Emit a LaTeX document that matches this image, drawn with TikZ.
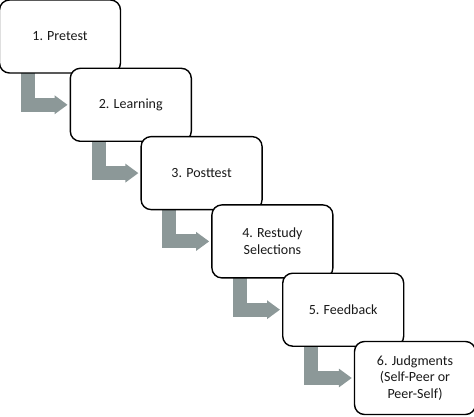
\documentclass[tikz,border=0pt]{standalone}
\usepackage{fontspec}
\setmainfont{Carlito}
\usetikzlibrary{arrows.meta,backgrounds}
\definecolor{arrowgray}{RGB}{140,152,152}
\definecolor{textgray}{RGB}{25,25,25}
\tikzset{
  stepbox/.style={draw=black, line width=1.4pt, fill=white, rounded corners=10pt,
    minimum width=121pt, minimum height=73pt, inner sep=0pt, align=center,
    text=textgray, font=\fontsize{14}{16.5}\selectfont},
  flowarrow/.style={draw=arrowgray, line width=14pt, line join=miter,
    -{Triangle[length=13pt,width=18pt]}, shorten >=2pt}
}
\begin{document}
\begin{tikzpicture}
\useasboundingbox (0,0) rectangle (474pt,-417pt);
\clip (0,0) rectangle (474pt,-417pt);
\node[stepbox] (b1) at (60pt,-36.5pt) {1. Pretest};
\node[stepbox] (b2) at (130.8pt,-104.8pt) {2. Learning};
\node[stepbox] (b3) at (201.6pt,-173.1pt) {3. Posttest};
\node[stepbox] (b4) at (272.4pt,-241.4pt) {4. Restudy\\Selections};
\node[stepbox] (b5) at (343.2pt,-309.7pt) {5. Feedback};
\node[stepbox] (b6) at (415pt,-378pt) {6. Judgments\\(Self-Peer or\\Peer-Self)};
\begin{scope}[on background layer]
  \draw[flowarrow] ([xshift=29pt,yshift=2pt]b1.south west) |- (b2.west);
  \draw[flowarrow] ([xshift=29pt,yshift=2pt]b2.south west) |- (b3.west);
  \draw[flowarrow] ([xshift=29pt,yshift=2pt]b3.south west) |- (b4.west);
  \draw[flowarrow] ([xshift=29pt,yshift=2pt]b4.south west) |- (b5.west);
  \draw[flowarrow] ([xshift=29pt,yshift=2pt]b5.south west) |- (b6.west);
\end{scope}
\end{tikzpicture}
\end{document}
